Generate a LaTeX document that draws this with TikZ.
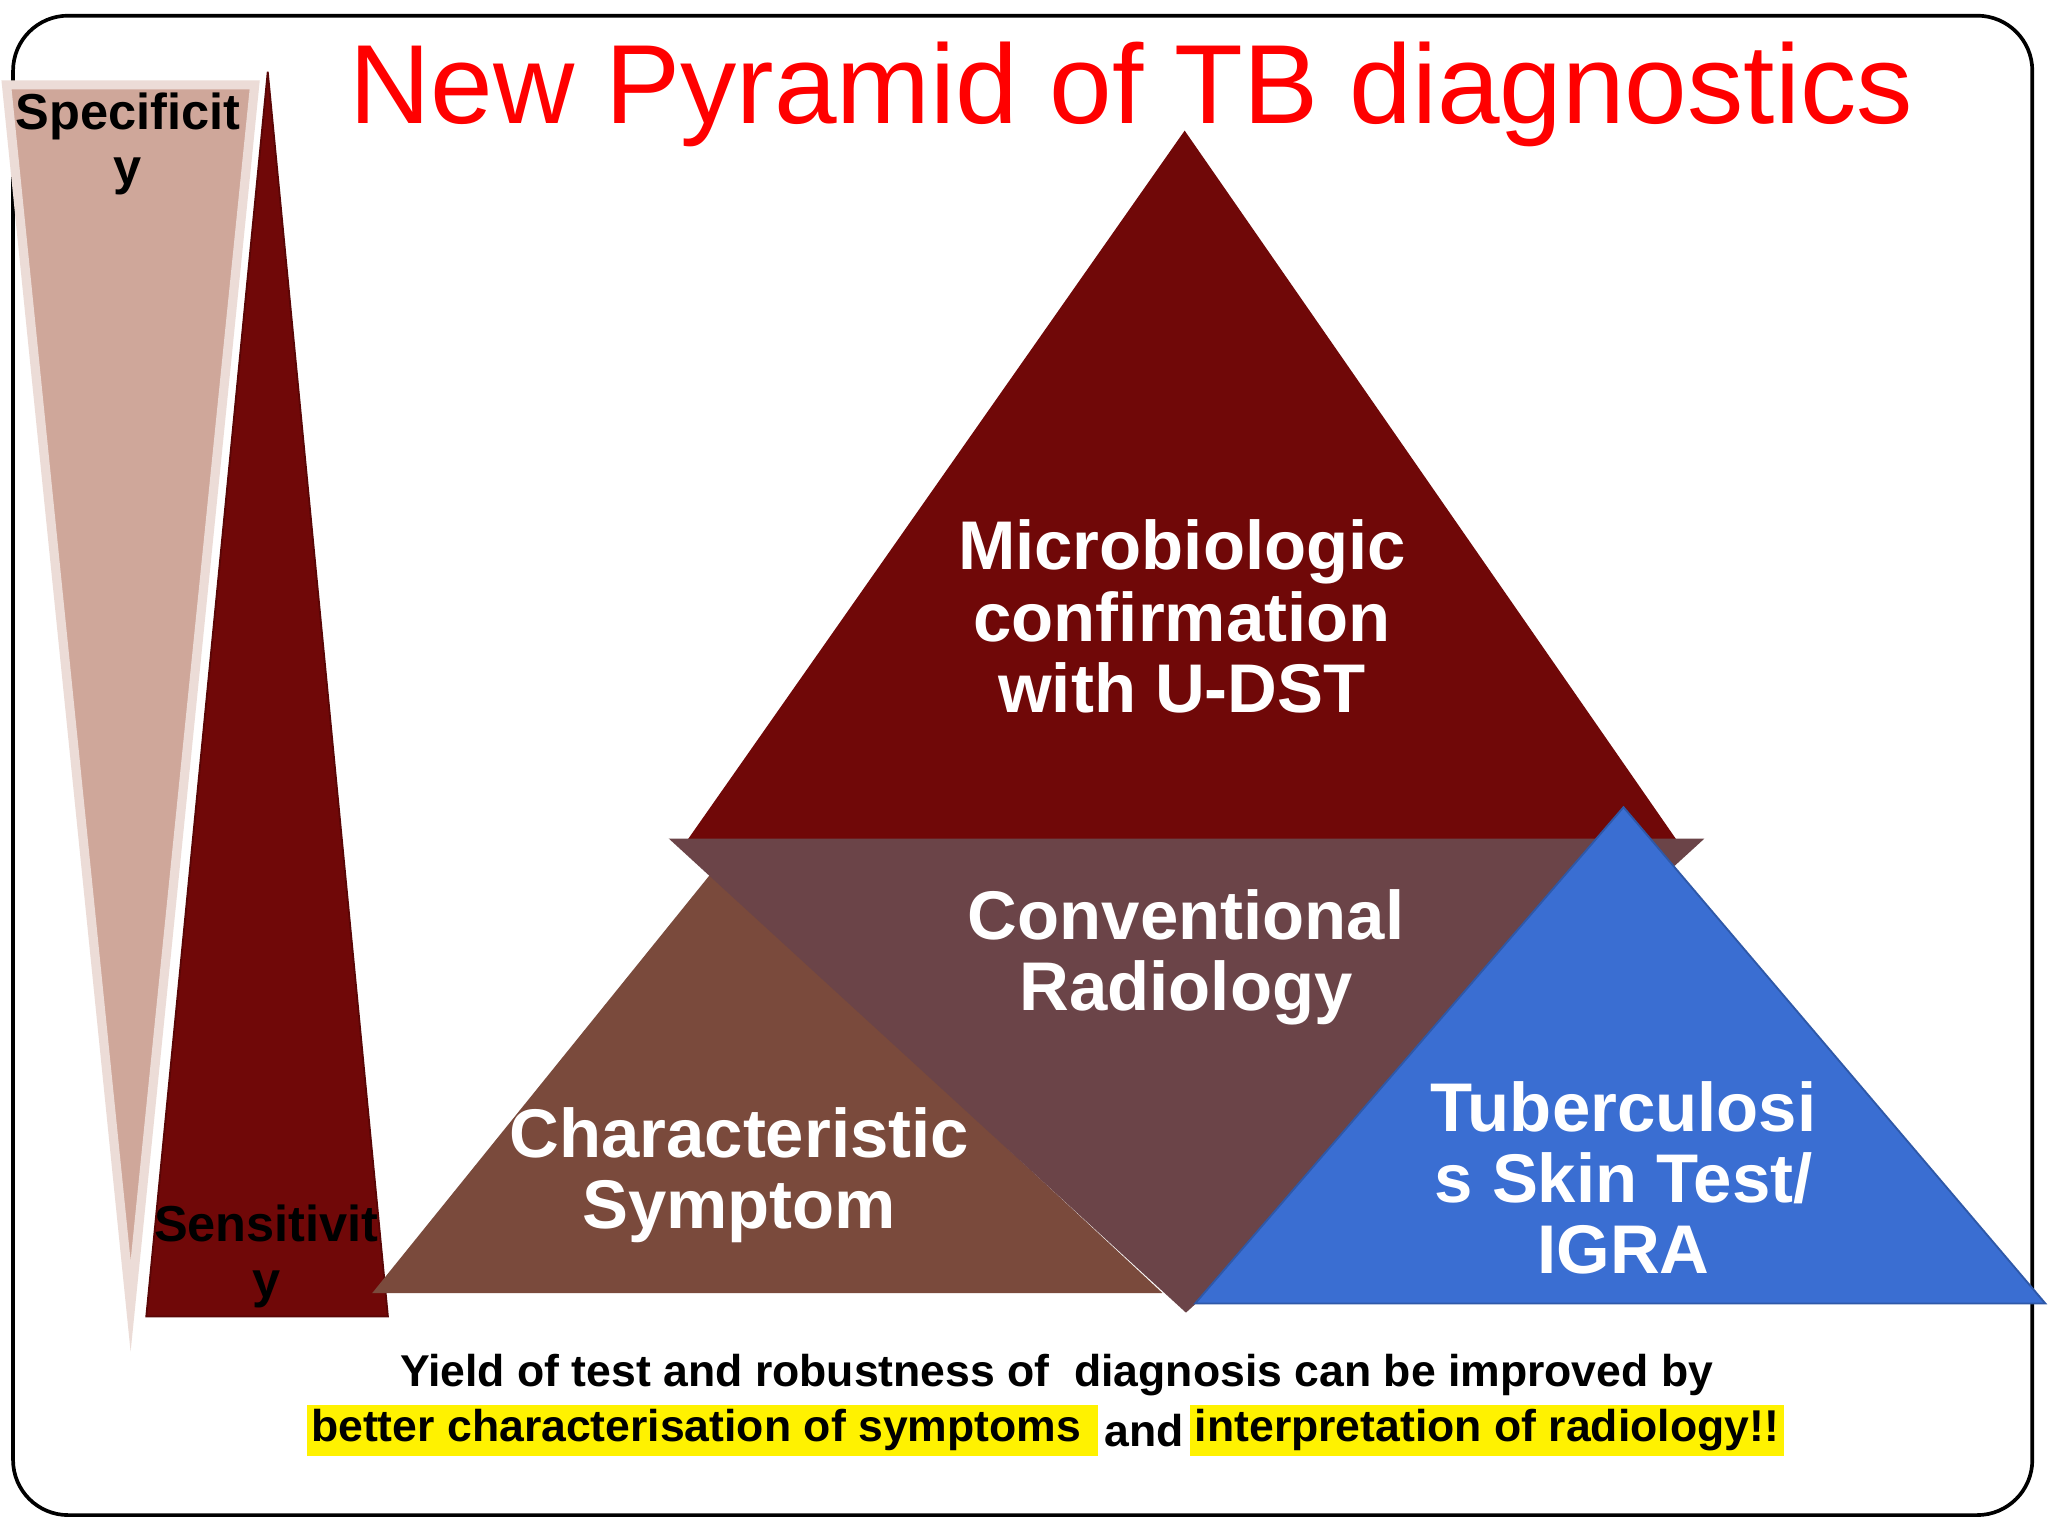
\documentclass[tikz,border=0pt]{standalone}
\usepackage{fontspec}
\setmainfont{Liberation Sans}
\begin{document}
\begin{tikzpicture}[x=0.01cm,y=-0.01cm,
  lbl/.style={text=white,font=\bfseries\fontsize{15}{15.5}\selectfont,align=center},
  sm/.style={text=black,font=\bfseries\fontsize{11}{12}\selectfont,align=center},
  bt/.style={font=\bfseries\fontsize{9.7}{10}\selectfont,inner sep=1pt},
  hl/.style={bt,fill=yellow}]
\definecolor{spec}{RGB}{207,167,154}
\definecolor{dred}{RGB}{112,8,8}
\definecolor{conv}{RGB}{107,68,72}
\definecolor{charc}{RGB}{122,74,60}
\definecolor{tblue}{RGB}{58,110,210}
\useasboundingbox (0,0) rectangle (1568,1176);
\fill[white] (0,0) rectangle (1568,1176);
\draw[rounded corners=12pt,line width=0.8pt] (10,12) rectangle (1556,1160);
\node[text=red,font=\fontsize{24.5}{25}\selectfont] (title) at (866,72) {New Pyramid of TB diagnostics};
% left triangles
\fill[spec,draw=spec!40!white,line width=2pt] (5,65) -- (195,65) -- (100,1000) -- cycle;
\fill[dred,draw=dred!80!black] (205,55) -- (297,1008) -- (112,1008) -- cycle;
\node[sm] (spec) at (98,110) {Specificit\\y};
\node[sm] (sens) at (204,962) {Sensitivit\\y};
% pyramid
\fill[dred] (907,100) -- (1285,645) -- (525,645) -- cycle;
\fill[charc] (545,668) -- (890,990) -- (285,990) -- cycle;
\fill[conv] (512,642) -- (1305,642) -- (908,1005) -- cycle;
\fill[fill=tblue,draw=tblue!80!black] (1243,618) -- (1566,998) -- (915,998) -- cycle;
\node[lbl] (micro) at (905,472) {Microbiologic\\confirmation\\with U-DST};
\node[lbl] (conv) at (908,733) {Conventional\\Radiology};
\node[lbl] (char) at (566,900) {Characteristic\\Symptom};
\node[lbl] (tst) at (1243,902) {Tuberculosi\\s Skin Test/\\IGRA};
% bottom text
\node[bt] (y1) at (809,1053) {Yield of test and robustness of\ \ diagnosis can be improved by};
\node[hl,anchor=west] (h1) at (234,1095) {better characterisation of symptoms\ \ };
\node[bt,anchor=west] (and) at (h1.east) {and};
\node[hl,anchor=west] (h2) at (and.east) {interpretation of radiology!!\ };
\end{tikzpicture}
\end{document}
